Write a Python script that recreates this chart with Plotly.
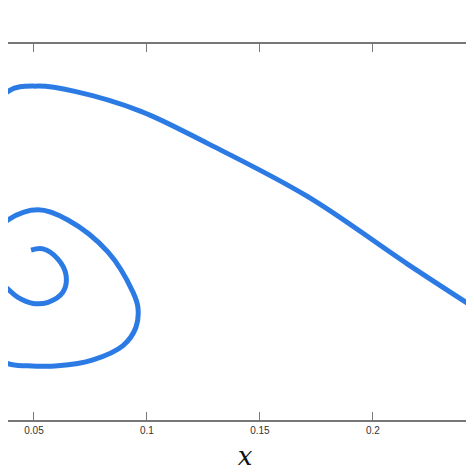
"""Spiral trajectory"""
import plotly.graph_objects as go

# trajectory (x in data units, y in relative units 0..1)
x_vals = [0.2482, 0.2155, 0.1712, 0.1270, 0.0973, 0.0681, 0.0518, 0.0385,
          0.0252, 0.0208, 0.0296,
          0.0385, 0.0473, 0.0606, 0.0761, 0.0894, 0.0951, 0.0960, 0.0938,
          0.0827, 0.0650, 0.0518, 0.0385,
          0.0296, 0.0319,
          0.0385, 0.0429, 0.0496, 0.0562, 0.0628, 0.0642, 0.0606, 0.0540,
          0.0487]
y_vals = [0.286, 0.414, 0.594, 0.735, 0.821, 0.874, 0.888, 0.874,
          0.727, 0.433, 0.193,
          0.150, 0.144, 0.144, 0.160, 0.198, 0.246, 0.299, 0.340,
          0.447, 0.532, 0.559, 0.532,
          0.473, 0.393,
          0.348, 0.326, 0.310, 0.313, 0.340, 0.385, 0.428, 0.455,
          0.452]
tick_vals = [0.05, 0.1, 0.15, 0.2, 0.25]
tick_text = ["0.05", "0.1", "0.15", "0.2", "0.25"]

fig = go.Figure()
fig.add_trace(go.Scatter(
    x=x_vals, y=y_vals, mode="lines",
    line=dict(color="#2c7be5", width=5, shape="spline", smoothing=1.0),
    hoverinfo="skip",
))

fig.update_layout(
    width=474, height=474,
    margin=dict(l=0, r=0, t=36, b=62, autoexpand=False),
    plot_bgcolor="white", paper_bgcolor="white",
    showlegend=False,
)
fig.update_xaxes(
    range=[0.0385, 0.2483], automargin=False,
    tickvals=tick_vals, ticktext=tick_text,
    ticks="inside", ticklen=8, tickcolor="#777", tickwidth=1,
    showline=True, linecolor="#777", linewidth=1.5, mirror="ticks",
    showgrid=False, zeroline=False,
    tickfont=dict(family="Liberation Sans, Arial", size=10, color="#333"),
    title=dict(text="<i>x</i>", font=dict(family="DejaVu Serif", size=26, color="#111"),
               standoff=12),
)
fig.update_yaxes(
    range=[0, 1], visible=False, showgrid=False, zeroline=False,
)

fig.write_html("out.html")
